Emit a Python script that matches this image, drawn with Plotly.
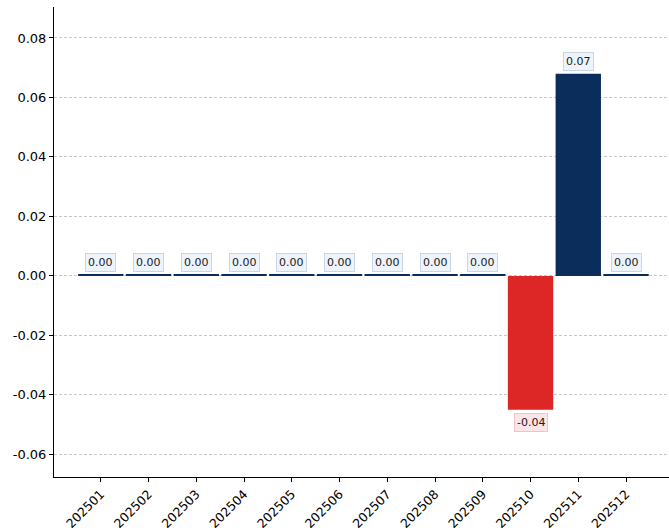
import plotly.graph_objects as go

months = ["202501", "202502", "202503", "202504", "202505", "202506",
          "202507", "202508", "202509", "202510", "202511", "202512"]
values = [0.0004, 0.0004, 0.0004, 0.0004, 0.0004, 0.0004,
          0.0004, 0.0004, 0.0004, -0.045, 0.068, 0.0004]
y_ticks = [-0.06, -0.04, -0.02, 0.0, 0.02, 0.04, 0.06, 0.08]

NAVY = "#0b2d5c"
RED = "#dd2626"

colors = [NAVY if v >= 0 else RED for v in values]
xs = list(range(len(months)))

fig = go.Figure()
fig.add_trace(go.Bar(x=xs, y=values, marker=dict(color=colors, line=dict(width=0)),
                     width=0.95, hoverinfo="skip"))

for x, v in zip(xs, values):
    pos = v >= 0
    fig.add_annotation(
        x=x, y=v, text=f"{v:.2f}", showarrow=False,
        yanchor="bottom" if pos else "top",
        yshift=3 if pos else -3,
        font=dict(family="DejaVu Sans", size=11, color="#1a1a1a"),
        bgcolor="#eef4fb" if pos else "#fde4e6",
        bordercolor="#c9d6e6" if pos else "#f0c4c8",
        borderwidth=1, borderpad=2,
    )

fig.update_layout(
    width=669, height=531,
    margin=dict(l=54, r=0, t=7, b=54),
    paper_bgcolor="white", plot_bgcolor="white",
    showlegend=False,
    font=dict(family="DejaVu Sans", size=13, color="#000000"),
    xaxis=dict(
        range=[-0.98, 11.9], tickmode="array", tickvals=xs, ticktext=months,
        tickangle=-45, ticks="outside", ticklen=4, tickcolor="#000",
        showline=True, linecolor="#000", linewidth=1, showgrid=False,
        zeroline=False, tickfont=dict(size=12.5), automargin=False,
    ),
    yaxis=dict(
        range=[-0.0676, 0.0904], tickmode="array", tickvals=y_ticks,
        ticktext=[f"{t:.2f}" for t in y_ticks],
        ticks="outside", ticklen=4, tickcolor="#000",
        showline=True, linecolor="#000", linewidth=1,
        showgrid=True, gridcolor="#c8c8c8", griddash="3px,2px", gridwidth=0.8,
        zeroline=False, tickfont=dict(size=13), automargin=False,
    ),
)

fig.write_html("out.html",
               config={"displayModeBar": False},
               post_script="document.body.style.margin='0';document.body.style.padding='0';")
